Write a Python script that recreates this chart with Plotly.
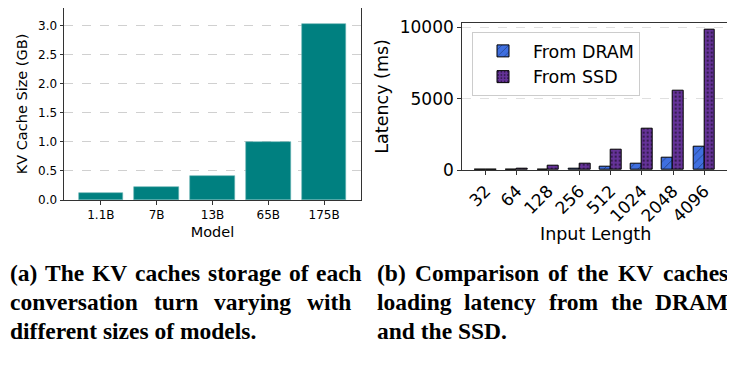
import plotly.graph_objects as go

# ---- data ----
models = ["1.1B", "7B", "13B", "65B", "175B"]
kv_size_gb = [0.12, 0.22, 0.41, 1.0, 3.03]

input_lengths = ["32", "64", "128", "256", "512", "1024", "2048", "4096"]
latency_dram = [15, 28, 55, 110, 225, 440, 860, 1660]
latency_ssd = [55, 120, 270, 470, 1400, 2890, 5530, 9860]

left_yticks = [0.0, 0.5, 1.0, 1.5, 2.0, 2.5, 3.0]
right_yticks = [0, 5000, 10000]
right_yticktext = ["0", "5000", "10000"]

caption_a = ["(a) The KV caches storage of each",
             "conversation turn varying with",
             "different sizes of models."]
caption_b = ["(b) Comparison of the KV caches",
             "loading latency from the DRAM",
             "and the SSD."]

# page body has an 8px margin, so the figure is drawn offset by 8px
OFF = 8
W, H = 735 - 2 * OFF, 384 - 2 * OFF
FONT = "DejaVu Sans"

fig = go.Figure()

fig.add_trace(go.Bar(
    x=models, y=kv_size_gb, width=0.8,
    marker=dict(color="#008080", line=dict(color="#66b2b2", width=0.6)),
    xaxis="x", yaxis="y", showlegend=False,
))

fig.add_trace(go.Bar(
    x=input_lengths, y=latency_dram, width=0.35, offset=-0.35,
    name="From DRAM",
    marker=dict(color="#3f6fe0", line=dict(color="black", width=1),
                pattern=dict(shape="/", fgcolor="black", bgcolor="#3f6fe0",
                             size=6, solidity=0.12)),
    xaxis="x2", yaxis="y2",
))
fig.add_trace(go.Bar(
    x=input_lengths, y=latency_ssd, width=0.35, offset=0,
    name="From SSD",
    marker=dict(color="#663399", line=dict(color="black", width=1),
                pattern=dict(shape=".", fgcolor="black", bgcolor="#663399",
                             size=4, solidity=0.25)),
    xaxis="x2", yaxis="y2",
))


def px(xp):
    return min(1.0, max(0.0, (xp - OFF) / W))


def py(yp):
    return min(1.0, max(0.0, 1 - (yp - OFF) / H))


axis_line = dict(showline=True, linecolor="#333333", linewidth=1, mirror=True,
                 ticks="outside", ticklen=3.5, tickcolor="#333333", zeroline=False,
                 automargin=False)

fig.update_layout(
    width=W, height=H,
    margin=dict(l=0, r=0, t=0, b=0),
    paper_bgcolor="white", plot_bgcolor="white",
    font=dict(family=FONT, color="black"),
    xaxis=dict(domain=[px(64), px(361)], anchor="y", type="category",
               range=[-0.66, 4.66], tickfont=dict(size=12),
               title=dict(text="Model", font=dict(size=14.5), standoff=5),
               showgrid=False, **axis_line),
    yaxis=dict(domain=[py(200), py(8)], anchor="x", range=[0, 3.305],
               tickvals=left_yticks, tickformat=".1f", tickfont=dict(size=12),
               title=dict(text="KV Cache Size (GB)", font=dict(size=14.5), standoff=6),
               showgrid=True, gridcolor="#d0d0d0", griddash="dash", gridwidth=1,
               **axis_line),
    xaxis2=dict(domain=[px(461.7), px(727)], anchor="y2", type="category",
                range=[-0.77, 7.73], tickangle=-45, tickfont=dict(size=17),
                showgrid=False, **axis_line),
    yaxis2=dict(domain=[py(170), py(22.7)], anchor="x2", range=[0, 10330],
                tickvals=right_yticks, ticktext=right_yticktext,
                tickfont=dict(size=17),
                title=dict(text="Latency (ms)", font=dict(size=17.5), standoff=6),
                showgrid=True, gridcolor="#e0e0e0", griddash="dash", gridwidth=1,
                **axis_line),
    legend=dict(x=px(472), y=py(32), xanchor="left", yanchor="top",
                xref="paper", yref="paper", itemwidth=50,
                font=dict(size=17.5), bgcolor="rgba(255,255,255,0.8)",
                bordercolor="#cccccc", borderwidth=1, tracegroupgap=2),
    bargap=0, barmode="overlay",
)

fig.add_annotation(text="Input Length", x=px(595), y=py(233.5), xref="paper",
                   yref="paper", xanchor="center", yanchor="middle",
                   showarrow=False, font=dict(size=17.5))

# ---- captions (justified like the source text) ----
CAP_FONT = "Liberation Serif"
CAP_SIZE = 23.5
CAP_Y = [273, 302, 331]
ADV = {"(": .333, ")": .333, " ": .25, ".": .25,
       "a": .5, "b": .556, "c": .444, "d": .556, "e": .444, "f": .333, "g": .5,
       "h": .556, "i": .278, "j": .333, "k": .556, "l": .278, "m": .833, "n": .556,
       "o": .5, "p": .556, "q": .556, "r": .444, "s": .389, "t": .333, "u": .556,
       "v": .5, "w": .722, "x": .5, "y": .5, "z": .444,
       "T": .667, "K": .778, "V": .722, "C": .722, "D": .722, "R": .722,
       "A": .722, "M": .944, "S": .556}


def word_w(w):
    return sum(ADV.get(c, .5) for c in w) * CAP_SIZE


def add_caption(lines, x0, x1):
    font = dict(family=CAP_FONT, size=CAP_SIZE, color="black")
    space = ADV[" "] * CAP_SIZE
    for i, line in enumerate(lines):
        if i < len(lines) - 1:
            words = line.split(" ")
            widths = [word_w(w) for w in words]
            gap = (x1 - x0 - sum(widths)) / (len(words) - 1)
            gap = min(gap, space + 10)
            x = x0
            for w, ww in zip(words, widths):
                fig.add_annotation(text="<b>" + w + "</b>", x=px(x), y=py(CAP_Y[i]),
                                   xref="paper", yref="paper", xanchor="left",
                                   yanchor="middle", showarrow=False, font=font)
                x += ww + gap
        else:
            fig.add_annotation(text="<b>" + line + "</b>", x=px(x0), y=py(CAP_Y[i]),
                               xref="paper", yref="paper", xanchor="left",
                               yanchor="middle", showarrow=False, font=font)


add_caption(caption_a, 8, 360)
add_caption(caption_b, 375, 726)

fig.write_html("out.html")
